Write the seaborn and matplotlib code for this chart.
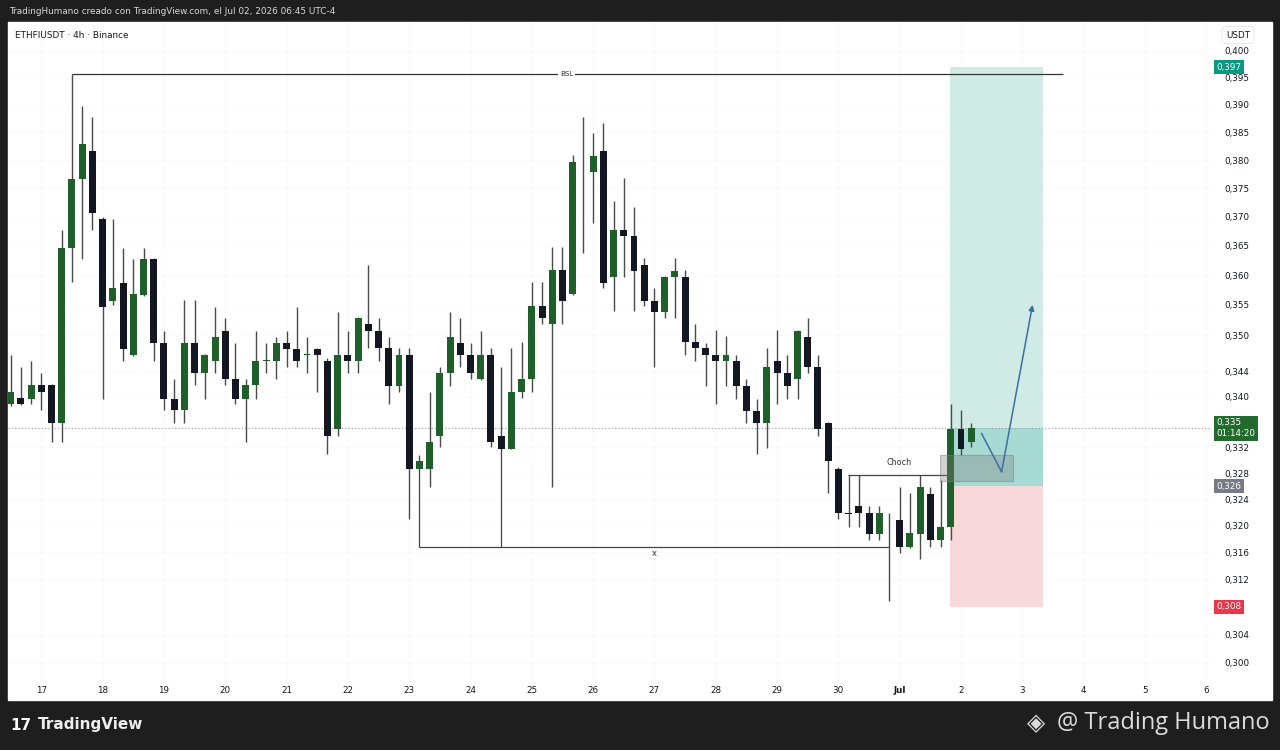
import numpy as np
import pandas as pd
import seaborn as sns
import matplotlib.pyplot as plt
from matplotlib.patches import Rectangle
from matplotlib.ticker import FixedLocator, FuncFormatter, NullLocator

# 4h candles, ETHFIUSDT, first bar 2026-06-16 12:00
start = "2026-06-16 12:00"
opens = [0.3388, 0.3398, 0.3397, 0.3418, 0.3418, 0.3358, 0.3647, 0.3766, 0.3817, 0.3697,
         0.3557, 0.3587, 0.3467, 0.3567, 0.3627, 0.3487, 0.3397, 0.3378, 0.3487, 0.3438,
         0.3458, 0.3507, 0.3428, 0.3397, 0.3418, 0.3458, 0.3458, 0.3487, 0.3477, 0.3467,
         0.3477, 0.3458, 0.3348, 0.3467, 0.3458, 0.3518, 0.3507, 0.3478, 0.3417, 0.3467,
         0.3287, 0.3287, 0.3338, 0.3438, 0.3487, 0.3467, 0.3428, 0.3467, 0.3338, 0.3318,
         0.3408, 0.3428, 0.3548, 0.3518, 0.3608, 0.3568, 0.3787, 0.3778, 0.3817, 0.3597,
         0.3677, 0.3667, 0.3617, 0.3557, 0.3538, 0.3597, 0.3597, 0.3488, 0.3478, 0.3467,
         0.3458, 0.3458, 0.3417, 0.3377, 0.3358, 0.3458, 0.3438, 0.3428, 0.3497, 0.3447,
         0.3358, 0.3287, 0.3219, 0.3229, 0.3219, 0.3188, 0.3209, 0.3209, 0.3168, 0.3188,
         0.3248, 0.3178, 0.3198, 0.3348, 0.3328]
highs = [0.3467, 0.3448, 0.3458, 0.3438, 0.3420, 0.3677, 0.3957, 0.3897, 0.3877, 0.3700,
         0.3697, 0.3647, 0.3627, 0.3647, 0.3629, 0.3507, 0.3428, 0.3558, 0.3558, 0.3469,
         0.3547, 0.3528, 0.3487, 0.3428, 0.3507, 0.3487, 0.3497, 0.3507, 0.3547, 0.3497,
         0.3478, 0.3463, 0.3538, 0.3507, 0.3529, 0.3617, 0.3528, 0.3497, 0.3478, 0.3478,
         0.3308, 0.3408, 0.3448, 0.3538, 0.3528, 0.3487, 0.3507, 0.3478, 0.3448, 0.3478,
         0.3488, 0.3588, 0.3588, 0.3648, 0.3648, 0.3809, 0.3877, 0.3848, 0.3867, 0.3728,
         0.3768, 0.3718, 0.3629, 0.3578, 0.3599, 0.3629, 0.3608, 0.3518, 0.3487, 0.3508,
         0.3498, 0.3467, 0.3428, 0.3397, 0.3478, 0.3508, 0.3467, 0.3509, 0.3528, 0.3467,
         0.3360, 0.3290, 0.3277, 0.3277, 0.3229, 0.3229, 0.3219, 0.3259, 0.3249, 0.3277,
         0.3258, 0.3270, 0.3388, 0.3378, 0.3358]
lows = [0.3385, 0.3386, 0.3389, 0.3378, 0.3329, 0.3329, 0.3589, 0.3627, 0.3677, 0.3397,
        0.3549, 0.3458, 0.3465, 0.3565, 0.3458, 0.3378, 0.3358, 0.3358, 0.3418, 0.3397,
        0.3438, 0.3418, 0.3389, 0.3329, 0.3397, 0.3438, 0.3428, 0.3448, 0.3448, 0.3438,
        0.3408, 0.3310, 0.3338, 0.3438, 0.3438, 0.3478, 0.3458, 0.3389, 0.3408, 0.3210,
        0.3285, 0.3258, 0.3320, 0.3417, 0.3448, 0.3428, 0.3427, 0.3320, 0.3316, 0.3317,
        0.3398, 0.3408, 0.3518, 0.3259, 0.3518, 0.3566, 0.3638, 0.3689, 0.3578, 0.3539,
        0.3597, 0.3539, 0.3548, 0.3448, 0.3528, 0.3528, 0.3467, 0.3458, 0.3417, 0.3388,
        0.3417, 0.3397, 0.3358, 0.3309, 0.3319, 0.3388, 0.3397, 0.3397, 0.3438, 0.3338,
        0.3249, 0.3210, 0.3198, 0.3198, 0.3178, 0.3178, 0.3088, 0.3159, 0.3166, 0.3150,
        0.3168, 0.3168, 0.3178, 0.3308, 0.3320]
closes = [0.3408, 0.3388, 0.3418, 0.3408, 0.3358, 0.3647, 0.3766, 0.3828, 0.3707, 0.3547,
          0.3578, 0.3477, 0.3568, 0.3627, 0.3487, 0.3397, 0.3378, 0.3487, 0.3438, 0.3467,
          0.3497, 0.3428, 0.3397, 0.3418, 0.3458, 0.3459, 0.3487, 0.3477, 0.3458, 0.3467,
          0.3467, 0.3338, 0.3467, 0.3458, 0.3528, 0.3507, 0.3478, 0.3417, 0.3467, 0.3287,
          0.3298, 0.3328, 0.3438, 0.3497, 0.3467, 0.3438, 0.3467, 0.3328, 0.3318, 0.3408,
          0.3428, 0.3548, 0.3528, 0.3608, 0.3557, 0.3797, 0.3788, 0.3808, 0.3587, 0.3677,
          0.3667, 0.3607, 0.3557, 0.3538, 0.3597, 0.3607, 0.3488, 0.3478, 0.3467, 0.3458,
          0.3467, 0.3417, 0.3377, 0.3358, 0.3447, 0.3438, 0.3417, 0.3507, 0.3447, 0.3348,
          0.3298, 0.3219, 0.3218, 0.3219, 0.3188, 0.3219, 0.3208, 0.3168, 0.3189, 0.3258,
          0.3178, 0.3198, 0.3348, 0.3318, 0.3350]

# scale labels (0,336 and 0,308 sit under the price boxes)
price_ticks = [0.400, 0.395, 0.390, 0.385, 0.380, 0.375, 0.370, 0.365, 0.360, 0.355, 0.350,
               0.344, 0.340, 0.332, 0.328, 0.324, 0.320, 0.316, 0.312, 0.304, 0.300]
day_labels = ["17", "18", "19", "20", "21", "22", "23", "24", "25", "26", "27", "28", "29", "30",
              "Jul", "2", "3", "4", "5", "6"]

# drawings
bsl_level = 0.3957
bsl_span = [6, 103]
choch_level = 0.3277
choch_span = [81.96, 91.9]
x_level = 0.3168
x_span = [40, 86]
x_legs = [(40, 0.3287), (48, 0.3318)]
target, entry, stop, last = 0.397, 0.326, 0.308, 0.335
pos_span = [91.9, 101.0]
zone = [90.9, 98.1, 0.3268, 0.3308]
path_x = [95.0, 96.97, 100.0]
path_y = [0.3342, 0.3282, 0.3550]

df = pd.DataFrame({"time": pd.date_range(start, periods=len(opens), freq="4h"),
                   "open": opens, "high": highs, "low": lows, "close": closes})
df["i"] = np.arange(len(df))
df["up"] = df["close"] >= df["open"]

sns.set_theme(style="white")
plt.rcParams["font.family"] = ["DejaVu Sans"]

W, H = 1280, 750
fig = plt.figure(figsize=(12.8, 7.5), dpi=100, facecolor="#1e1e1e")
fig.patches.append(Rectangle((8 / W, 1 - 700 / H), 1264 / W, 678 / H,
                             transform=fig.transFigure, color="white", zorder=-5))

ax = fig.add_axes([8 / W, 1 - 680 / H, 1204 / W, 658 / H])
ax.set_facecolor("white")
for s in ax.spines.values():
    s.set_visible(False)
ax.set_yscale("log")
ax.set_ylim(0.29760, 0.40549)
ax.set_xlim(-0.26, 117.56)

green, black, wick = "#1f5f2a", "#131722", "#4a4a4a"

# position tool
ax.add_patch(Rectangle((pos_span[0], last), pos_span[1] - pos_span[0], target - last,
                       color="#d0ebe6", lw=0, zorder=1))
ax.add_patch(Rectangle((pos_span[0], entry), pos_span[1] - pos_span[0], last - entry,
                       color="#a7dad2", lw=0, zorder=1))
ax.add_patch(Rectangle((pos_span[0], stop), pos_span[1] - pos_span[0], entry - stop,
                       color="#f9d8dc", lw=0, zorder=1))

# candles
ax.vlines(df["i"], df["low"], df["high"], color=wick, lw=1, zorder=3)
body_lo = np.minimum(df["open"], df["close"])
body_h = np.maximum(np.abs(df["close"] - df["open"]), 0.00012)
ax.bar(df["i"], body_h, bottom=body_lo, width=0.68,
       color=np.where(df["up"], green, black), lw=0, zorder=4)

# current price line
ax.axhline(last, color="#9598a1", ls=(0, (1, 2)), lw=0.8, zorder=2)

# BSL
ax.hlines(bsl_level, *bsl_span, color="#333333", lw=0.9, zorder=5)
ax.text(54.4, bsl_level, "BSL", fontsize=5.2, ha="center", va="center", color="#333333",
        bbox=dict(facecolor="white", edgecolor="none", pad=1.5), zorder=6)

# Choch
ax.hlines(choch_level, *choch_span, color="#444444", lw=0.9, zorder=5)
ax.text(86.9, 0.3290, "Choch", fontsize=5.8, ha="center", va="bottom", color="#333333", zorder=6)

# x sweep line
ax.hlines(x_level, *x_span, color="#444444", lw=0.9, zorder=5)
for lx, ly in x_legs:
    ax.vlines(lx, x_level, ly, color="#444444", lw=0.9, zorder=5)
ax.text(63, 0.3158, "x", fontsize=6, ha="center", va="center", color="#333333", zorder=6)

# zone + projected path
ax.add_patch(Rectangle((zone[0], zone[2]), zone[1] - zone[0], zone[3] - zone[2],
                       facecolor=(0.5, 0.5, 0.5, 0.35), edgecolor=(0.5, 0.5, 0.5, 0.5),
                       lw=0.8, zorder=6))
ax.plot(path_x[:2], path_y[:2], color="#3a6ea5", lw=1.1, zorder=7)
ax.annotate("", xy=(path_x[2], path_y[2]), xytext=(path_x[1], path_y[1]),
            arrowprops=dict(arrowstyle="-|>", color="#3a6ea5", lw=1.1,
                            mutation_scale=8, shrinkA=0, shrinkB=0), zorder=7)

# axes ticks
ax.yaxis.tick_right()
ax.yaxis.set_major_locator(FixedLocator(price_ticks))
ax.yaxis.set_minor_locator(NullLocator())
ax.yaxis.set_major_formatter(FuncFormatter(lambda v, p: f"{v:.3f}".replace(".", ",")))
ax.tick_params(axis="y", length=0, pad=9, labelsize=6.3, labelcolor="#131722")
day_pos = [3 + 6 * k for k in range(len(day_labels))]
ax.set_xticks(day_pos)
ax.set_xticklabels(day_labels)
ax.tick_params(axis="x", length=0, pad=4, labelsize=6.3, labelcolor="#131722")
for t in ax.get_xticklabels():
    if t.get_text() == "Jul":
        t.set_fontweight("bold")
ax.grid(True, color="#f8f8f8", lw=0.5)
ax.set_axisbelow(True)

# price labels on the scale
ytr = ax.get_yaxis_transform()
def price_box(v, txt, fc, x=1.0035):
    ax.text(x, v, txt, transform=ytr, fontsize=6.3, color="white", ha="left", va="center",
            linespacing=1.25, clip_on=False, zorder=10,
            bbox=dict(boxstyle="square,pad=0.28", facecolor=fc, edgecolor="none"))

price_box(target, "0,397", "#089981")
price_box(last, "0,335\n01:14:20", "#236b2d")
price_box(entry, "0,326", "#787b86")
price_box(stop, "0,308", "#e8364a")


def px(x, y):
    return x / W, 1 - y / H

fig.text(*px(1238, 35), "USDT", fontsize=6.3, color="#131722", ha="center", va="center",
         bbox=dict(boxstyle="round,pad=0.45", facecolor="white", edgecolor="#e6e6e6", lw=0.6))
fig.text(*px(9, 11), "TradingHumano creado con TradingView.com, el Jul 02, 2026 06:45 UTC-4",
         fontsize=6.4, color="#d8d8d8", ha="left", va="center")
fig.text(*px(15, 35), "ETHFIUSDT · 4h · Binance", fontsize=6.4, color="#131722",
         ha="left", va="center")
fig.text(*px(10, 725), "17", fontsize=11, fontweight="heavy", color="white",
         ha="left", va="center")
fig.text(*px(38, 725), "TradingView", fontsize=11, fontweight="bold", color="#eeeeee",
         ha="left", va="center")
fig.text(*px(1036, 723), "◈", fontsize=17, color="#dcdcdc", ha="center", va="center")
fig.text(*px(1270, 723), "@ Trading Humano", fontsize=17, color="#dcdcdc",
         ha="right", va="center", family=["Open Sans", "DejaVu Sans"])

fig.savefig("out.png", dpi=100, facecolor=fig.get_facecolor())
